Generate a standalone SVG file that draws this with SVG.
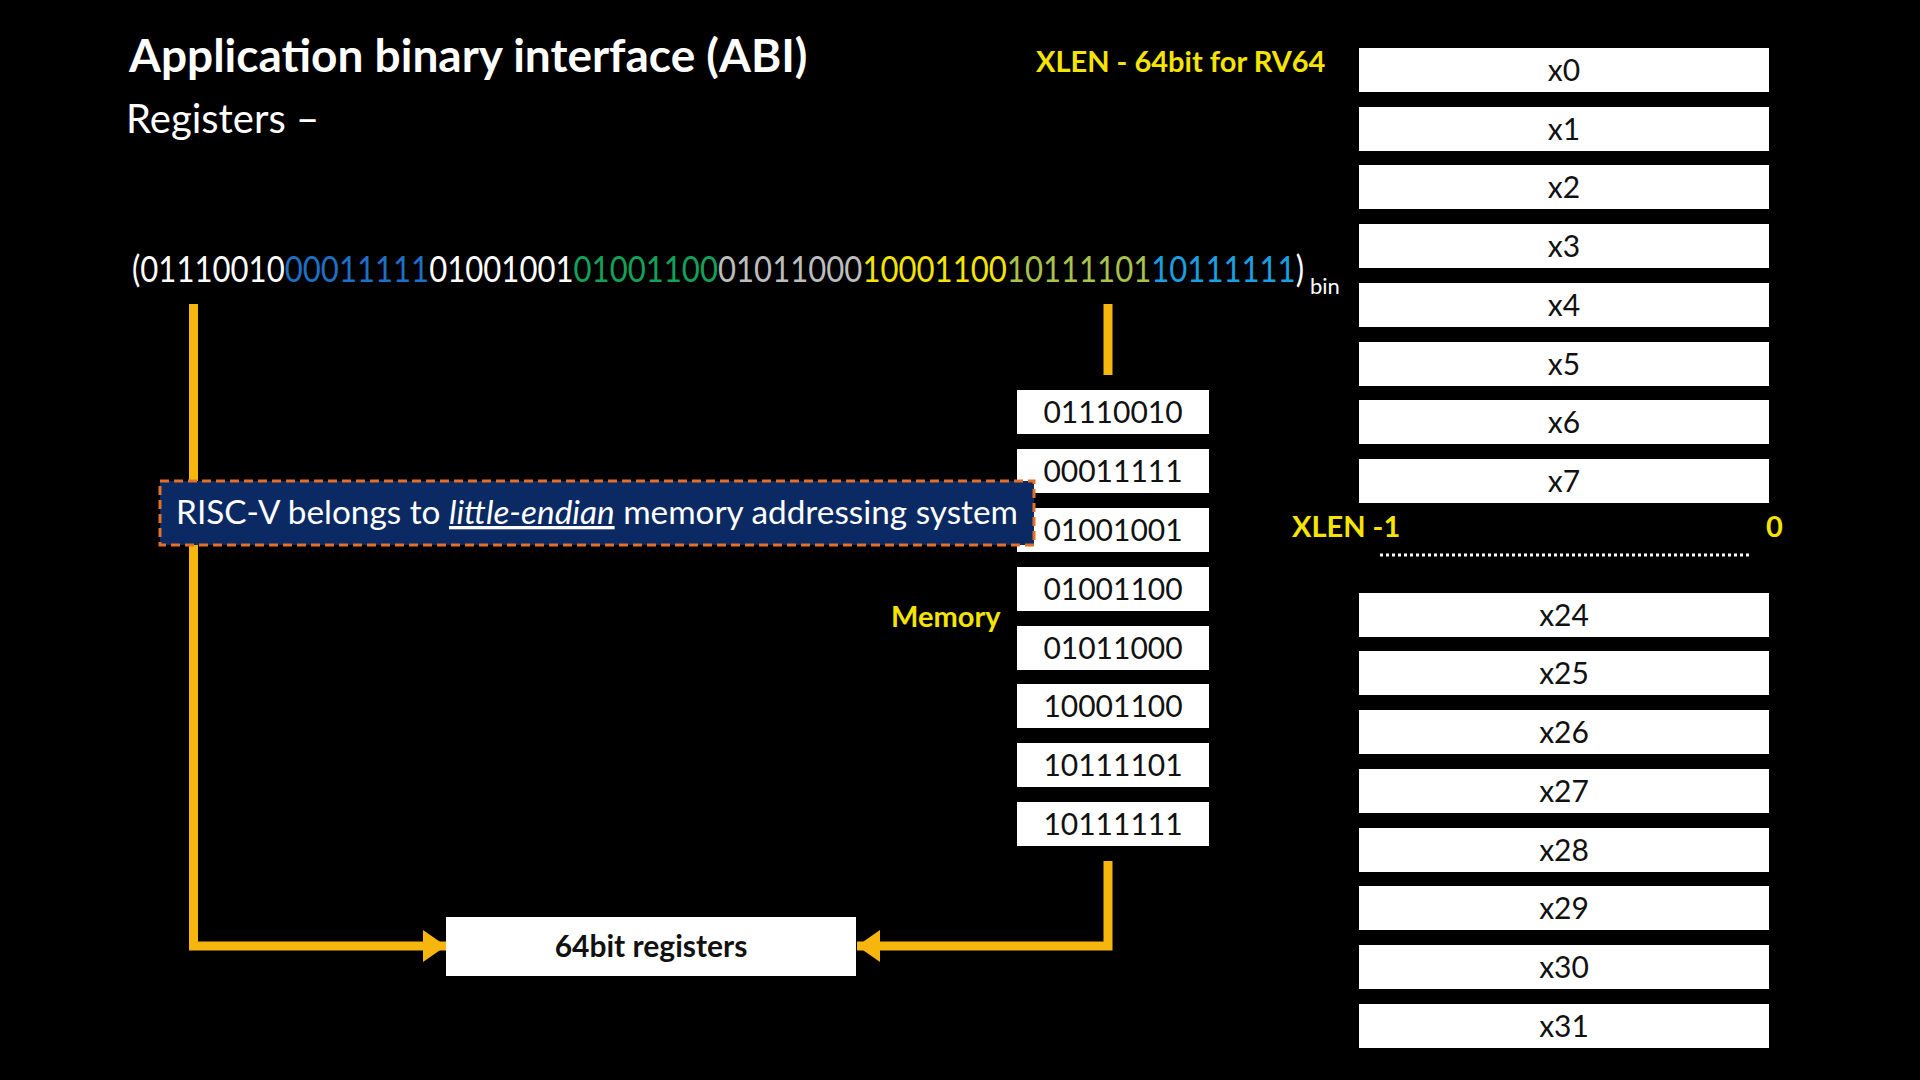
<svg xmlns="http://www.w3.org/2000/svg" width="1920" height="1080" viewBox="0 0 1920 1080">
<defs>
<style>
text{font-family:Lato,"Open Sans","Liberation Sans",sans-serif}
.box{fill:#fff}
.bt{fill:#111;font-size:30px;text-anchor:middle}
.y{fill:#f5e400;font-weight:bold}
.ln{stroke:#f6b60e;stroke-width:9;fill:none}
</style>
<marker id="ah" markerWidth="4" markerHeight="4" refX="2.6" refY="2" orient="auto" markerUnits="strokeWidth"><path d="M0,0.2 L2.6,2 L0,3.8 Z" fill="#f6b60e"/></marker>
</defs>
<rect width="1920" height="1080" fill="#000"/>
<text x="129" y="72" fill="#fff" font-size="46" font-weight="bold">Application binary interface (ABI)</text>
<text x="126" y="133" fill="#fff" font-size="40">Registers –</text>
<text x="1036" y="72" class="y" font-size="29">XLEN - 64bit for RV64</text>
<text x="132" y="282" font-size="36" textLength="1172" lengthAdjust="spacingAndGlyphs"><tspan fill="#fff">(01110010</tspan><tspan fill="#1f6fc4">00011111</tspan><tspan fill="#fff">01001001</tspan><tspan fill="#12a25a">01001100</tspan><tspan fill="#bdbdbd">01011000</tspan><tspan fill="#f5e400">10001100</tspan><tspan fill="#a8c24a">10111101</tspan><tspan fill="#1aa0e0">10111111</tspan><tspan fill="#fff">)</tspan></text>
<text x="1310" y="294" fill="#fff" font-size="22">bin</text>
<g id="connectors">
<polyline class="ln" points="193.5,304 193.5,946 446,946" marker-end="url(#ah)"/>
<polyline class="ln" points="1108,861 1108,946 857,946" marker-end="url(#ah)"/>
<line class="ln" x1="1108" y1="304" x2="1108" y2="375"/>
</g>
<g id="memory">
<text x="891" y="627" class="y" font-size="29">Memory</text>
<rect class="box" x="1017" y="390" width="192" height="44"/><text class="bt" x="1113" y="423">01110010</text>
<rect class="box" x="1017" y="449" width="192" height="44"/><text class="bt" x="1113" y="482">00011111</text>
<rect class="box" x="1017" y="508" width="192" height="44"/><text class="bt" x="1113" y="541">01001001</text>
<rect class="box" x="1017" y="567" width="192" height="44"/><text class="bt" x="1113" y="600">01001100</text>
<rect class="box" x="1017" y="626" width="192" height="44"/><text class="bt" x="1113" y="659">01011000</text>
<rect class="box" x="1017" y="684" width="192" height="44"/><text class="bt" x="1113" y="717">10001100</text>
<rect class="box" x="1017" y="743" width="192" height="44"/><text class="bt" x="1113" y="776">10111101</text>
<rect class="box" x="1017" y="802" width="192" height="44"/><text class="bt" x="1113" y="835">10111111</text>
</g>
<g id="callout">
<rect x="160" y="481" width="874" height="64" fill="#0b2a63" stroke="#e0702a" stroke-width="3" stroke-dasharray="9,5"/>
<text x="176" y="524" fill="#fff" font-size="33" textLength="842" lengthAdjust="spacingAndGlyphs">RISC-V belongs to <tspan font-style="italic" text-decoration="underline">little-endian</tspan> memory addressing system</text>
</g>
<g id="reg64">
<rect class="box" x="446" y="917" width="410" height="59"/>
<text class="bt" x="651" y="957" font-weight="bold">64bit registers</text>
</g>
<g id="registers">
<rect class="box" x="1359" y="48" width="410" height="44"/><text class="bt" x="1564" y="81">x0</text>
<rect class="box" x="1359" y="107" width="410" height="44"/><text class="bt" x="1564" y="140">x1</text>
<rect class="box" x="1359" y="165" width="410" height="44"/><text class="bt" x="1564" y="198">x2</text>
<rect class="box" x="1359" y="224" width="410" height="44"/><text class="bt" x="1564" y="257">x3</text>
<rect class="box" x="1359" y="283" width="410" height="44"/><text class="bt" x="1564" y="316">x4</text>
<rect class="box" x="1359" y="342" width="410" height="44"/><text class="bt" x="1564" y="375">x5</text>
<rect class="box" x="1359" y="400" width="410" height="44"/><text class="bt" x="1564" y="433">x6</text>
<rect class="box" x="1359" y="459" width="410" height="44"/><text class="bt" x="1564" y="492">x7</text>
<text x="1292" y="537" class="y" font-size="29">XLEN -1</text>
<text x="1766" y="537" class="y" font-size="29">0</text>
<line x1="1380" y1="555" x2="1749" y2="555" stroke="#fff" stroke-width="3" stroke-dasharray="3,3"/>
<rect class="box" x="1359" y="593" width="410" height="44"/><text class="bt" x="1564" y="626">x24</text>
<rect class="box" x="1359" y="651" width="410" height="44"/><text class="bt" x="1564" y="684">x25</text>
<rect class="box" x="1359" y="710" width="410" height="44"/><text class="bt" x="1564" y="743">x26</text>
<rect class="box" x="1359" y="769" width="410" height="44"/><text class="bt" x="1564" y="802">x27</text>
<rect class="box" x="1359" y="828" width="410" height="44"/><text class="bt" x="1564" y="861">x28</text>
<rect class="box" x="1359" y="886" width="410" height="44"/><text class="bt" x="1564" y="919">x29</text>
<rect class="box" x="1359" y="945" width="410" height="44"/><text class="bt" x="1564" y="978">x30</text>
<rect class="box" x="1359" y="1004" width="410" height="44"/><text class="bt" x="1564" y="1037">x31</text>
</g>
</svg>
